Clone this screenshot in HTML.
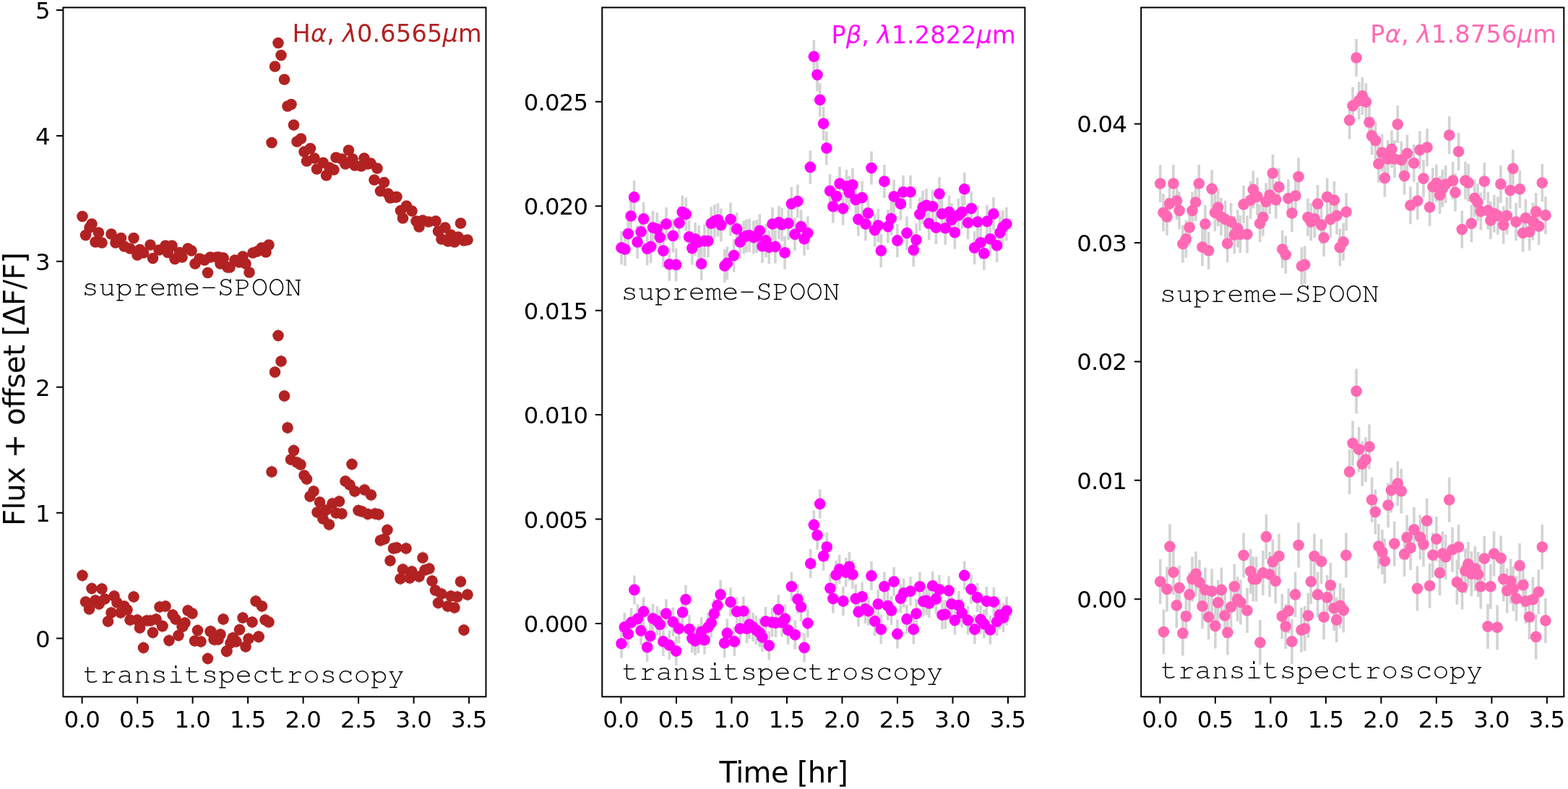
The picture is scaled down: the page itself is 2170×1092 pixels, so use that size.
<!DOCTYPE html>
<html><head><meta charset="utf-8"><title>Flare light curves</title>
<style>html,body{margin:0;padding:0;background:#fff;overflow:hidden;}svg{display:block;}</style></head>
<body>
<svg width="2170" height="1092" viewBox="0 0 2170 1092" font-family="'DejaVu Sans', 'Liberation Sans', sans-serif">
<rect width="2170" height="1092" fill="#fff"/>
<path d="M114.0 294.5V304.5M127.0 305.0V315.0M124.0 310.0V320.0M118.5 320.5V330.5M136.5 317.0V327.0M132.0 330.0V340.0M141.0 331.0V341.0M154.0 319.0V329.0M160.0 331.0V341.0M167.5 324.5V334.5M172.0 336.0V346.0M185.0 324.5V334.5M180.0 339.0V349.0M190.0 348.0V358.0M193.5 340.5V350.5M198.5 345.0V355.0M208.0 334.0V344.0M211.5 352.5V362.5M220.0 341.0V351.0M229.0 335.0V345.0M238.0 335.0V345.0M232.2 344.5V354.5M248.4 344.5V354.5M242.0 353.5V363.5M252.0 351.0V361.0M260.0 339.0V349.0M265.0 342.0V352.0M270.0 360.0V370.0M276.0 353.0V363.0M283.0 355.0V365.0M287.5 372.5V382.5M291.0 351.0V361.0M300.0 351.0V361.0M305.0 360.0V370.0M309.0 352.0V362.0M315.0 365.0V375.0M303.0 351.0V361.0M309.0 353.0V363.0M318.0 365.0V375.0M325.0 355.0V365.0M331.0 358.0V368.0M336.0 350.0V360.0M340.0 360.0V370.0M345.0 372.0V382.0M350.0 345.0V355.0M356.0 343.0V353.0M362.0 338.0V348.0M368.0 344.0V354.0M372.0 334.0V344.0M376.0 192.5V202.5M380.5 87.0V97.0M385.0 54.5V64.5M389.0 71.5V81.5M393.5 105.0V115.0M398.0 142.0V152.0M403.0 139.5V149.5M406.5 168.0V178.0M411.0 191.0V201.0M416.5 187.0V197.0M421.0 205.0V215.0M429.5 200.5V210.5M424.5 218.0V228.0M435.0 214.0V224.0M438.5 229.0V239.0M447.3 220.2V230.2M451.6 237.7V247.7M456.0 227.0V237.0M462.0 230.0V240.0M465.0 213.0V223.0M473.0 215.0V225.0M478.0 222.0V232.0M482.5 203.0V213.0M488.0 215.0V225.0M491.0 224.0V234.0M504.0 214.0V224.0M500.0 225.0V235.0M509.0 222.0V232.0M513.0 221.0V231.0M522.0 228.0V238.0M518.0 244.0V254.0M531.5 247.5V257.5M526.5 259.5V269.5M537.0 263.0V273.0M540.0 269.0V279.0M544.0 268.0V278.0M548.0 268.0V278.0M549.0 267.5V277.5M554.5 286.5V296.5M562.5 280.0V290.0M570.0 287.0V297.0M557.5 297.0V307.0M576.0 301.0V311.0M585.0 300.0V310.0M580.0 309.0V319.0M593.0 302.0V312.0M603.0 301.0V311.0M606.5 315.0V325.0M616.0 310.0V320.0M611.0 326.0V336.0M620.0 329.0V339.0M624.0 320.0V330.0M629.0 330.0V340.0M634.0 323.0V333.0M642.0 328.0V338.0M647.0 327.0V337.0M637.5 304.0V314.0" stroke="#d3d3d3" stroke-width="2.2" fill="none"/>
<g fill="#b22222"><circle cx="114.0" cy="299.5" r="7.8"/><circle cx="127.0" cy="310.0" r="7.8"/><circle cx="124.0" cy="315.0" r="7.8"/><circle cx="118.5" cy="325.5" r="7.8"/><circle cx="136.5" cy="322.0" r="7.8"/><circle cx="132.0" cy="335.0" r="7.8"/><circle cx="141.0" cy="336.0" r="7.8"/><circle cx="154.0" cy="324.0" r="7.8"/><circle cx="160.0" cy="336.0" r="7.8"/><circle cx="167.5" cy="329.5" r="7.8"/><circle cx="172.0" cy="341.0" r="7.8"/><circle cx="185.0" cy="329.5" r="7.8"/><circle cx="180.0" cy="344.0" r="7.8"/><circle cx="190.0" cy="353.0" r="7.8"/><circle cx="193.5" cy="345.5" r="7.8"/><circle cx="198.5" cy="350.0" r="7.8"/><circle cx="208.0" cy="339.0" r="7.8"/><circle cx="211.5" cy="357.5" r="7.8"/><circle cx="220.0" cy="346.0" r="7.8"/><circle cx="229.0" cy="340.0" r="7.8"/><circle cx="238.0" cy="340.0" r="7.8"/><circle cx="232.2" cy="349.5" r="7.8"/><circle cx="248.4" cy="349.5" r="7.8"/><circle cx="242.0" cy="358.5" r="7.8"/><circle cx="252.0" cy="356.0" r="7.8"/><circle cx="260.0" cy="344.0" r="7.8"/><circle cx="265.0" cy="347.0" r="7.8"/><circle cx="270.0" cy="365.0" r="7.8"/><circle cx="276.0" cy="358.0" r="7.8"/><circle cx="283.0" cy="360.0" r="7.8"/><circle cx="287.5" cy="377.5" r="7.8"/><circle cx="291.0" cy="356.0" r="7.8"/><circle cx="300.0" cy="356.0" r="7.8"/><circle cx="305.0" cy="365.0" r="7.8"/><circle cx="309.0" cy="357.0" r="7.8"/><circle cx="315.0" cy="370.0" r="7.8"/><circle cx="303.0" cy="356.0" r="7.8"/><circle cx="309.0" cy="358.0" r="7.8"/><circle cx="318.0" cy="370.0" r="7.8"/><circle cx="325.0" cy="360.0" r="7.8"/><circle cx="331.0" cy="363.0" r="7.8"/><circle cx="336.0" cy="355.0" r="7.8"/><circle cx="340.0" cy="365.0" r="7.8"/><circle cx="345.0" cy="377.0" r="7.8"/><circle cx="350.0" cy="350.0" r="7.8"/><circle cx="356.0" cy="348.0" r="7.8"/><circle cx="362.0" cy="343.0" r="7.8"/><circle cx="368.0" cy="349.0" r="7.8"/><circle cx="372.0" cy="339.0" r="7.8"/><circle cx="376.0" cy="197.5" r="7.8"/><circle cx="380.5" cy="92.0" r="7.8"/><circle cx="385.0" cy="59.5" r="7.8"/><circle cx="389.0" cy="76.5" r="7.8"/><circle cx="393.5" cy="110.0" r="7.8"/><circle cx="398.0" cy="147.0" r="7.8"/><circle cx="403.0" cy="144.5" r="7.8"/><circle cx="406.5" cy="173.0" r="7.8"/><circle cx="411.0" cy="196.0" r="7.8"/><circle cx="416.5" cy="192.0" r="7.8"/><circle cx="421.0" cy="210.0" r="7.8"/><circle cx="429.5" cy="205.5" r="7.8"/><circle cx="424.5" cy="223.0" r="7.8"/><circle cx="435.0" cy="219.0" r="7.8"/><circle cx="438.5" cy="234.0" r="7.8"/><circle cx="447.3" cy="225.2" r="7.8"/><circle cx="451.6" cy="242.7" r="7.8"/><circle cx="456.0" cy="232.0" r="7.8"/><circle cx="462.0" cy="235.0" r="7.8"/><circle cx="465.0" cy="218.0" r="7.8"/><circle cx="473.0" cy="220.0" r="7.8"/><circle cx="478.0" cy="227.0" r="7.8"/><circle cx="482.5" cy="208.0" r="7.8"/><circle cx="488.0" cy="220.0" r="7.8"/><circle cx="491.0" cy="229.0" r="7.8"/><circle cx="504.0" cy="219.0" r="7.8"/><circle cx="500.0" cy="230.0" r="7.8"/><circle cx="509.0" cy="227.0" r="7.8"/><circle cx="513.0" cy="226.0" r="7.8"/><circle cx="522.0" cy="233.0" r="7.8"/><circle cx="518.0" cy="249.0" r="7.8"/><circle cx="531.5" cy="252.5" r="7.8"/><circle cx="526.5" cy="264.5" r="7.8"/><circle cx="537.0" cy="268.0" r="7.8"/><circle cx="540.0" cy="274.0" r="7.8"/><circle cx="544.0" cy="273.0" r="7.8"/><circle cx="548.0" cy="273.0" r="7.8"/><circle cx="549.0" cy="272.5" r="7.8"/><circle cx="554.5" cy="291.5" r="7.8"/><circle cx="562.5" cy="285.0" r="7.8"/><circle cx="570.0" cy="292.0" r="7.8"/><circle cx="557.5" cy="302.0" r="7.8"/><circle cx="576.0" cy="306.0" r="7.8"/><circle cx="585.0" cy="305.0" r="7.8"/><circle cx="580.0" cy="314.0" r="7.8"/><circle cx="593.0" cy="307.0" r="7.8"/><circle cx="603.0" cy="306.0" r="7.8"/><circle cx="606.5" cy="320.0" r="7.8"/><circle cx="616.0" cy="315.0" r="7.8"/><circle cx="611.0" cy="331.0" r="7.8"/><circle cx="620.0" cy="334.0" r="7.8"/><circle cx="624.0" cy="325.0" r="7.8"/><circle cx="629.0" cy="335.0" r="7.8"/><circle cx="634.0" cy="328.0" r="7.8"/><circle cx="642.0" cy="333.0" r="7.8"/><circle cx="647.0" cy="332.0" r="7.8"/><circle cx="637.5" cy="309.0" r="7.8"/></g>
<path d="M114.0 787.0V806.0M127.0 805.0V824.0M141.0 805.5V824.5M118.5 823.5V842.5M123.5 833.5V852.5M132.0 821.5V840.5M137.0 826.5V845.5M145.0 819.5V838.5M158.0 815.5V834.5M154.0 838.5V857.5M149.5 850.5V869.5M162.0 824.5V843.5M172.0 829.5V848.5M176.0 834.5V853.5M167.0 838.5V857.5M185.0 816.5V835.5M180.0 848.5V867.5M190.0 848.5V867.5M193.5 859.5V878.5M203.0 849.5V868.5M208.0 849.5V868.5M216.0 847.5V866.5M211.5 866.0V885.0M221.0 830.5V849.5M229.0 829.5V848.5M224.5 857.0V876.0M239.0 841.5V860.5M243.0 847.5V866.5M260.0 835.5V854.5M266.0 839.5V858.5M256.0 852.5V871.5M252.0 857.5V876.5M247.0 870.0V889.0M234.0 877.0V896.0M198.5 887.0V906.0M225.0 857.0V876.0M253.0 857.5V876.5M273.5 863.0V882.0M269.5 877.5V896.5M278.0 878.5V897.5M291.0 864.5V883.5M296.0 875.5V894.5M305.0 868.5V887.5M302.0 875.5V894.5M287.5 902.0V921.0M322.0 873.5V892.5M327.0 878.5V897.5M319.0 880.5V899.5M313.5 892.0V911.0M331.5 862.0V881.0M340.0 885.5V904.5M344.0 874.5V893.5M358.0 871.5V890.5M349.0 851.5V870.5M336.0 845.5V864.5M309.0 847.5V866.5M292.0 864.5V883.5M298.0 875.5V894.5M314.0 891.5V910.5M323.0 873.5V892.5M354.0 822.5V841.5M362.5 829.5V848.5M358.0 872.0V891.0M367.0 848.5V867.5M372.0 851.5V870.5M376.0 643.5V662.5M380.5 505.5V524.5M385.0 455.0V474.0M389.0 490.5V509.5M393.5 538.5V557.5M398.0 582.5V601.5M402.5 626.5V645.5M406.5 614.0V633.0M411.0 630.5V649.5M416.0 633.5V652.5M421.0 648.5V667.5M424.5 653.5V672.5M434.0 670.5V689.5M429.0 677.5V696.5M442.5 685.5V704.5M439.0 699.5V718.5M447.0 708.5V727.5M455.5 716.5V735.5M451.0 696.5V715.5M460.0 687.5V706.5M469.5 684.5V703.5M465.0 700.5V719.5M473.0 701.5V720.5M478.0 656.5V675.5M484.0 661.5V680.5M487.0 633.0V652.0M491.0 670.5V689.5M504.5 668.5V687.5M513.5 675.5V694.5M496.0 697.0V716.0M501.0 698.5V717.5M509.0 702.0V721.0M519.0 701.5V720.5M524.0 702.5V721.5M536.0 724.0V743.0M526.5 738.5V757.5M532.0 736.5V755.5M544.5 749.5V768.5M549.0 748.5V767.5M562.0 749.5V768.5M540.0 766.5V785.5M585.0 762.5V781.5M557.5 778.5V797.5M554.0 791.5V810.5M570.0 781.5V800.5M567.0 790.5V809.5M580.0 788.5V807.5M588.0 779.5V798.5M594.0 777.5V796.5M598.0 794.5V813.5M602.5 807.5V826.5M611.0 812.5V831.5M606.5 825.0V844.0M619.5 829.5V848.5M624.0 815.5V834.5M629.0 831.5V850.5M633.0 816.5V835.5M637.5 795.5V814.5M647.0 813.5V832.5M642.0 862.5V881.5" stroke="#d3d3d3" stroke-width="2.2" fill="none"/>
<g fill="#b22222"><circle cx="114.0" cy="796.5" r="7.8"/><circle cx="127.0" cy="814.5" r="7.8"/><circle cx="141.0" cy="815.0" r="7.8"/><circle cx="118.5" cy="833.0" r="7.8"/><circle cx="123.5" cy="843.0" r="7.8"/><circle cx="132.0" cy="831.0" r="7.8"/><circle cx="137.0" cy="836.0" r="7.8"/><circle cx="145.0" cy="829.0" r="7.8"/><circle cx="158.0" cy="825.0" r="7.8"/><circle cx="154.0" cy="848.0" r="7.8"/><circle cx="149.5" cy="860.0" r="7.8"/><circle cx="162.0" cy="834.0" r="7.8"/><circle cx="172.0" cy="839.0" r="7.8"/><circle cx="176.0" cy="844.0" r="7.8"/><circle cx="167.0" cy="848.0" r="7.8"/><circle cx="185.0" cy="826.0" r="7.8"/><circle cx="180.0" cy="858.0" r="7.8"/><circle cx="190.0" cy="858.0" r="7.8"/><circle cx="193.5" cy="869.0" r="7.8"/><circle cx="203.0" cy="859.0" r="7.8"/><circle cx="208.0" cy="859.0" r="7.8"/><circle cx="216.0" cy="857.0" r="7.8"/><circle cx="211.5" cy="875.5" r="7.8"/><circle cx="221.0" cy="840.0" r="7.8"/><circle cx="229.0" cy="839.0" r="7.8"/><circle cx="224.5" cy="866.5" r="7.8"/><circle cx="239.0" cy="851.0" r="7.8"/><circle cx="243.0" cy="857.0" r="7.8"/><circle cx="260.0" cy="845.0" r="7.8"/><circle cx="266.0" cy="849.0" r="7.8"/><circle cx="256.0" cy="862.0" r="7.8"/><circle cx="252.0" cy="867.0" r="7.8"/><circle cx="247.0" cy="879.5" r="7.8"/><circle cx="234.0" cy="886.5" r="7.8"/><circle cx="198.5" cy="896.5" r="7.8"/><circle cx="225.0" cy="866.5" r="7.8"/><circle cx="253.0" cy="867.0" r="7.8"/><circle cx="273.5" cy="872.5" r="7.8"/><circle cx="269.5" cy="887.0" r="7.8"/><circle cx="278.0" cy="888.0" r="7.8"/><circle cx="291.0" cy="874.0" r="7.8"/><circle cx="296.0" cy="885.0" r="7.8"/><circle cx="305.0" cy="878.0" r="7.8"/><circle cx="302.0" cy="885.0" r="7.8"/><circle cx="287.5" cy="911.5" r="7.8"/><circle cx="322.0" cy="883.0" r="7.8"/><circle cx="327.0" cy="888.0" r="7.8"/><circle cx="319.0" cy="890.0" r="7.8"/><circle cx="313.5" cy="901.5" r="7.8"/><circle cx="331.5" cy="871.5" r="7.8"/><circle cx="340.0" cy="895.0" r="7.8"/><circle cx="344.0" cy="884.0" r="7.8"/><circle cx="358.0" cy="881.0" r="7.8"/><circle cx="349.0" cy="861.0" r="7.8"/><circle cx="336.0" cy="855.0" r="7.8"/><circle cx="309.0" cy="857.0" r="7.8"/><circle cx="292.0" cy="874.0" r="7.8"/><circle cx="298.0" cy="885.0" r="7.8"/><circle cx="314.0" cy="901.0" r="7.8"/><circle cx="323.0" cy="883.0" r="7.8"/><circle cx="354.0" cy="832.0" r="7.8"/><circle cx="362.5" cy="839.0" r="7.8"/><circle cx="358.0" cy="881.5" r="7.8"/><circle cx="367.0" cy="858.0" r="7.8"/><circle cx="372.0" cy="861.0" r="7.8"/><circle cx="376.0" cy="653.0" r="7.8"/><circle cx="380.5" cy="515.0" r="7.8"/><circle cx="385.0" cy="464.5" r="7.8"/><circle cx="389.0" cy="500.0" r="7.8"/><circle cx="393.5" cy="548.0" r="7.8"/><circle cx="398.0" cy="592.0" r="7.8"/><circle cx="402.5" cy="636.0" r="7.8"/><circle cx="406.5" cy="623.5" r="7.8"/><circle cx="411.0" cy="640.0" r="7.8"/><circle cx="416.0" cy="643.0" r="7.8"/><circle cx="421.0" cy="658.0" r="7.8"/><circle cx="424.5" cy="663.0" r="7.8"/><circle cx="434.0" cy="680.0" r="7.8"/><circle cx="429.0" cy="687.0" r="7.8"/><circle cx="442.5" cy="695.0" r="7.8"/><circle cx="439.0" cy="709.0" r="7.8"/><circle cx="447.0" cy="718.0" r="7.8"/><circle cx="455.5" cy="726.0" r="7.8"/><circle cx="451.0" cy="706.0" r="7.8"/><circle cx="460.0" cy="697.0" r="7.8"/><circle cx="469.5" cy="694.0" r="7.8"/><circle cx="465.0" cy="710.0" r="7.8"/><circle cx="473.0" cy="711.0" r="7.8"/><circle cx="478.0" cy="666.0" r="7.8"/><circle cx="484.0" cy="671.0" r="7.8"/><circle cx="487.0" cy="642.5" r="7.8"/><circle cx="491.0" cy="680.0" r="7.8"/><circle cx="504.5" cy="678.0" r="7.8"/><circle cx="513.5" cy="685.0" r="7.8"/><circle cx="496.0" cy="706.5" r="7.8"/><circle cx="501.0" cy="708.0" r="7.8"/><circle cx="509.0" cy="711.5" r="7.8"/><circle cx="519.0" cy="711.0" r="7.8"/><circle cx="524.0" cy="712.0" r="7.8"/><circle cx="536.0" cy="733.5" r="7.8"/><circle cx="526.5" cy="748.0" r="7.8"/><circle cx="532.0" cy="746.0" r="7.8"/><circle cx="544.5" cy="759.0" r="7.8"/><circle cx="549.0" cy="758.0" r="7.8"/><circle cx="562.0" cy="759.0" r="7.8"/><circle cx="540.0" cy="776.0" r="7.8"/><circle cx="585.0" cy="772.0" r="7.8"/><circle cx="557.5" cy="788.0" r="7.8"/><circle cx="554.0" cy="801.0" r="7.8"/><circle cx="570.0" cy="791.0" r="7.8"/><circle cx="567.0" cy="800.0" r="7.8"/><circle cx="580.0" cy="798.0" r="7.8"/><circle cx="588.0" cy="789.0" r="7.8"/><circle cx="594.0" cy="787.0" r="7.8"/><circle cx="598.0" cy="804.0" r="7.8"/><circle cx="602.5" cy="817.0" r="7.8"/><circle cx="611.0" cy="822.0" r="7.8"/><circle cx="606.5" cy="834.5" r="7.8"/><circle cx="619.5" cy="839.0" r="7.8"/><circle cx="624.0" cy="825.0" r="7.8"/><circle cx="629.0" cy="841.0" r="7.8"/><circle cx="633.0" cy="826.0" r="7.8"/><circle cx="637.5" cy="805.0" r="7.8"/><circle cx="647.0" cy="823.0" r="7.8"/><circle cx="642.0" cy="872.0" r="7.8"/></g>
<rect x="87.4" y="10.4" width="585.1" height="953.9" fill="none" stroke="#000" stroke-width="2.0"/>
<path d="M113.6 964.3V973.6999999999999M190.1 964.3V973.6999999999999M266.6 964.3V973.6999999999999M343.1 964.3V973.6999999999999M419.6 964.3V973.6999999999999M496.1 964.3V973.6999999999999M572.6 964.3V973.6999999999999M649.1 964.3V973.6999999999999M78.0 883.6H87.4M78.0 709.7H87.4M78.0 535.7H87.4M78.0 361.8H87.4M78.0 187.9H87.4M78.0 13.9H87.4" stroke="#000" stroke-width="2.0" fill="none"/>
<path d="M860.0 319.9V365.9M865.0 322.0V368.0M869.3 300.6V346.6M873.1 276.0V322.0M877.6 249.9V295.9M882.1 312.0V358.0M887.1 297.7V343.7M890.7 279.9V325.9M895.7 321.3V367.3M900.7 318.4V364.4M903.6 292.0V338.0M909.3 294.1V340.1M913.3 305.6V351.6M917.9 324.1V370.1M922.1 287.0V333.0M926.4 342.7V388.7M931.4 303.4V349.4M935.7 343.4V389.4M940.0 285.6V331.6M944.3 270.6V316.6M949.3 273.4V319.4M953.6 304.9V350.9M957.9 320.6V366.6M962.1 307.7V353.7M967.1 312.0V358.0M970.7 342.0V388.0M975.0 310.6V356.6M980.0 310.6V356.6M984.3 286.3V332.3M989.0 283.0V329.0M993.6 281.3V327.3M997.9 288.4V334.4M1002.9 344.9V390.9M1006.4 341.3V387.3M1011.1 280.6V326.6M1015.7 330.6V376.6M1019.7 293.9V339.9M1024.3 312.0V358.0M1029.3 305.6V351.6M1033.0 303.5V349.5M1037.1 302.7V348.7M1042.9 305.6V351.6M1047.1 304.1V350.1M1051.4 296.3V342.3M1055.0 317.7V363.7M1060.0 309.9V355.9M1064.3 319.1V365.1M1069.0 287.0V333.0M1072.9 318.4V364.4M1077.9 284.9V330.9M1082.1 287.7V333.7M1086.1 326.7V372.7M1091.1 286.0V332.0M1095.4 259.1V305.1M1103.9 255.6V301.6M1100.0 301.3V347.3M1108.6 290.6V336.6M1113.1 307.7V353.7M1117.9 299.6V345.6M1121.4 208.4V254.4M1126.4 55.3V101.3M1131.0 80.6V126.6M1134.7 115.3V161.3M1139.6 148.1V194.1M1143.9 182.0V228.0M1148.6 241.3V287.3M1152.9 262.7V308.7M1157.6 248.7V294.7M1162.1 231.0V277.0M1166.7 265.6V311.6M1171.4 234.9V280.9M1175.3 243.4V289.4M1180.0 232.7V278.7M1184.3 253.4V299.4M1187.9 280.6V326.6M1193.1 250.6V296.6M1197.9 287.0V333.0M1201.4 272.0V318.0M1206.0 209.6V255.6M1210.7 295.6V341.6M1215.3 289.1V335.1M1219.3 323.9V369.9M1223.9 228.1V274.1M1228.9 290.6V336.6M1233.3 279.6V325.6M1237.1 249.1V295.1M1241.9 309.9V355.9M1246.4 259.1V305.1M1250.0 242.7V288.7M1255.0 299.6V345.6M1260.0 242.7V288.7M1264.3 323.0V369.0M1268.1 309.1V355.1M1272.9 273.4V319.4M1277.1 264.1V310.1M1282.1 261.3V307.3M1285.7 286.3V332.3M1290.7 262.7V308.7M1295.4 292.0V338.0M1300.0 245.3V291.3M1303.6 273.0V319.0M1308.3 292.7V338.7M1313.6 270.6V316.6M1316.9 281.3V327.3M1321.4 298.7V344.7M1326.4 274.9V320.9M1331.4 270.6V316.6M1334.7 238.7V284.7M1339.6 285.3V331.3M1344.3 265.6V311.6M1348.6 319.9V365.9M1352.9 284.1V330.1M1357.1 312.7V358.7M1361.9 327.7V373.7M1366.0 283.4V329.4M1370.4 307.7V353.7M1375.0 273.0V319.0M1379.7 316.7V362.7M1383.9 299.1V345.1M1387.9 291.3V337.3M1392.9 287.0V333.0" stroke="#d3d3d3" stroke-width="3.6" fill="none"/>
<g fill="#ff00ff"><circle cx="860.0" cy="342.9" r="7.8"/><circle cx="865.0" cy="345.0" r="7.8"/><circle cx="869.3" cy="323.6" r="7.8"/><circle cx="873.1" cy="299.0" r="7.8"/><circle cx="877.6" cy="272.9" r="7.8"/><circle cx="882.1" cy="335.0" r="7.8"/><circle cx="887.1" cy="320.7" r="7.8"/><circle cx="890.7" cy="302.9" r="7.8"/><circle cx="895.7" cy="344.3" r="7.8"/><circle cx="900.7" cy="341.4" r="7.8"/><circle cx="903.6" cy="315.0" r="7.8"/><circle cx="909.3" cy="317.1" r="7.8"/><circle cx="913.3" cy="328.6" r="7.8"/><circle cx="917.9" cy="347.1" r="7.8"/><circle cx="922.1" cy="310.0" r="7.8"/><circle cx="926.4" cy="365.7" r="7.8"/><circle cx="931.4" cy="326.4" r="7.8"/><circle cx="935.7" cy="366.4" r="7.8"/><circle cx="940.0" cy="308.6" r="7.8"/><circle cx="944.3" cy="293.6" r="7.8"/><circle cx="949.3" cy="296.4" r="7.8"/><circle cx="953.6" cy="327.9" r="7.8"/><circle cx="957.9" cy="343.6" r="7.8"/><circle cx="962.1" cy="330.7" r="7.8"/><circle cx="967.1" cy="335.0" r="7.8"/><circle cx="970.7" cy="365.0" r="7.8"/><circle cx="975.0" cy="333.6" r="7.8"/><circle cx="980.0" cy="333.6" r="7.8"/><circle cx="984.3" cy="309.3" r="7.8"/><circle cx="989.0" cy="306.0" r="7.8"/><circle cx="993.6" cy="304.3" r="7.8"/><circle cx="997.9" cy="311.4" r="7.8"/><circle cx="1002.9" cy="367.9" r="7.8"/><circle cx="1006.4" cy="364.3" r="7.8"/><circle cx="1011.1" cy="303.6" r="7.8"/><circle cx="1015.7" cy="353.6" r="7.8"/><circle cx="1019.7" cy="316.9" r="7.8"/><circle cx="1024.3" cy="335.0" r="7.8"/><circle cx="1029.3" cy="328.6" r="7.8"/><circle cx="1033.0" cy="326.5" r="7.8"/><circle cx="1037.1" cy="325.7" r="7.8"/><circle cx="1042.9" cy="328.6" r="7.8"/><circle cx="1047.1" cy="327.1" r="7.8"/><circle cx="1051.4" cy="319.3" r="7.8"/><circle cx="1055.0" cy="340.7" r="7.8"/><circle cx="1060.0" cy="332.9" r="7.8"/><circle cx="1064.3" cy="342.1" r="7.8"/><circle cx="1069.0" cy="310.0" r="7.8"/><circle cx="1072.9" cy="341.4" r="7.8"/><circle cx="1077.9" cy="307.9" r="7.8"/><circle cx="1082.1" cy="310.7" r="7.8"/><circle cx="1086.1" cy="349.7" r="7.8"/><circle cx="1091.1" cy="309.0" r="7.8"/><circle cx="1095.4" cy="282.1" r="7.8"/><circle cx="1103.9" cy="278.6" r="7.8"/><circle cx="1100.0" cy="324.3" r="7.8"/><circle cx="1108.6" cy="313.6" r="7.8"/><circle cx="1113.1" cy="330.7" r="7.8"/><circle cx="1117.9" cy="322.6" r="7.8"/><circle cx="1121.4" cy="231.4" r="7.8"/><circle cx="1126.4" cy="78.3" r="7.8"/><circle cx="1131.0" cy="103.6" r="7.8"/><circle cx="1134.7" cy="138.3" r="7.8"/><circle cx="1139.6" cy="171.1" r="7.8"/><circle cx="1143.9" cy="205.0" r="7.8"/><circle cx="1148.6" cy="264.3" r="7.8"/><circle cx="1152.9" cy="285.7" r="7.8"/><circle cx="1157.6" cy="271.7" r="7.8"/><circle cx="1162.1" cy="254.0" r="7.8"/><circle cx="1166.7" cy="288.6" r="7.8"/><circle cx="1171.4" cy="257.9" r="7.8"/><circle cx="1175.3" cy="266.4" r="7.8"/><circle cx="1180.0" cy="255.7" r="7.8"/><circle cx="1184.3" cy="276.4" r="7.8"/><circle cx="1187.9" cy="303.6" r="7.8"/><circle cx="1193.1" cy="273.6" r="7.8"/><circle cx="1197.9" cy="310.0" r="7.8"/><circle cx="1201.4" cy="295.0" r="7.8"/><circle cx="1206.0" cy="232.6" r="7.8"/><circle cx="1210.7" cy="318.6" r="7.8"/><circle cx="1215.3" cy="312.1" r="7.8"/><circle cx="1219.3" cy="346.9" r="7.8"/><circle cx="1223.9" cy="251.1" r="7.8"/><circle cx="1228.9" cy="313.6" r="7.8"/><circle cx="1233.3" cy="302.6" r="7.8"/><circle cx="1237.1" cy="272.1" r="7.8"/><circle cx="1241.9" cy="332.9" r="7.8"/><circle cx="1246.4" cy="282.1" r="7.8"/><circle cx="1250.0" cy="265.7" r="7.8"/><circle cx="1255.0" cy="322.6" r="7.8"/><circle cx="1260.0" cy="265.7" r="7.8"/><circle cx="1264.3" cy="346.0" r="7.8"/><circle cx="1268.1" cy="332.1" r="7.8"/><circle cx="1272.9" cy="296.4" r="7.8"/><circle cx="1277.1" cy="287.1" r="7.8"/><circle cx="1282.1" cy="284.3" r="7.8"/><circle cx="1285.7" cy="309.3" r="7.8"/><circle cx="1290.7" cy="285.7" r="7.8"/><circle cx="1295.4" cy="315.0" r="7.8"/><circle cx="1300.0" cy="268.3" r="7.8"/><circle cx="1303.6" cy="296.0" r="7.8"/><circle cx="1308.3" cy="315.7" r="7.8"/><circle cx="1313.6" cy="293.6" r="7.8"/><circle cx="1316.9" cy="304.3" r="7.8"/><circle cx="1321.4" cy="321.7" r="7.8"/><circle cx="1326.4" cy="297.9" r="7.8"/><circle cx="1331.4" cy="293.6" r="7.8"/><circle cx="1334.7" cy="261.7" r="7.8"/><circle cx="1339.6" cy="308.3" r="7.8"/><circle cx="1344.3" cy="288.6" r="7.8"/><circle cx="1348.6" cy="342.9" r="7.8"/><circle cx="1352.9" cy="307.1" r="7.8"/><circle cx="1357.1" cy="335.7" r="7.8"/><circle cx="1361.9" cy="350.7" r="7.8"/><circle cx="1366.0" cy="306.4" r="7.8"/><circle cx="1370.4" cy="330.7" r="7.8"/><circle cx="1375.0" cy="296.0" r="7.8"/><circle cx="1379.7" cy="339.7" r="7.8"/><circle cx="1383.9" cy="322.1" r="7.8"/><circle cx="1387.9" cy="314.3" r="7.8"/><circle cx="1392.9" cy="310.0" r="7.8"/></g>
<path d="M860.0 870.7V910.7M864.3 847.9V887.9M869.3 857.4V897.4M873.6 841.4V881.4M877.9 796.4V836.4M882.4 836.4V876.4M887.1 852.9V892.9M890.7 826.4V866.4M895.7 875.7V915.7M900.0 860.3V900.3M903.6 836.0V876.0M909.3 839.3V879.3M913.3 844.3V884.3M917.9 867.9V907.9M921.9 829.3V869.3M926.4 872.9V912.9M931.4 840.7V880.7M935.7 881.1V921.1M939.6 850.0V890.0M944.6 827.4V867.4M949.0 809.7V849.7M953.9 850.7V890.7M957.9 863.6V903.6M962.1 867.1V907.1M966.4 864.3V904.3M970.7 854.3V894.3M975.0 865.7V905.7M980.0 847.9V887.9M984.3 842.1V882.1M988.3 829.3V869.3M992.9 817.9V857.9M997.1 802.9V842.9M1002.6 870.0V910.0M1006.4 856.4V896.4M1011.1 813.3V853.3M1016.4 867.9V907.9M1019.7 826.4V866.4M1024.3 850.0V890.0M1028.9 825.7V865.7M1033.6 850.0V890.0M1037.1 844.3V884.3M1042.1 847.9V887.9M1046.4 852.1V892.1M1051.4 855.7V895.7M1055.0 862.1V902.1M1059.6 840.0V880.0M1064.3 873.6V913.6M1068.6 841.4V881.4M1073.6 842.1V882.1M1077.4 823.6V863.6M1082.1 841.4V881.4M1086.4 836.4V876.4M1090.7 852.1V892.1M1095.4 791.7V831.7M1100.3 858.6V898.6M1104.0 809.3V849.3M1108.6 820.0V860.0M1113.1 876.4V916.4M1117.9 842.6V882.6M1121.7 760.0V800.0M1126.4 706.4V746.4M1131.1 720.7V760.7M1134.7 677.4V717.4M1139.6 749.7V789.7M1144.3 737.1V777.1M1148.9 794.3V834.3M1152.9 808.6V848.6M1157.1 775.7V815.7M1161.7 767.9V807.9M1166.9 812.1V852.1M1170.7 772.1V812.1M1175.4 764.3V804.3M1180.0 775.0V815.0M1184.3 808.6V848.6M1188.1 826.9V866.9M1193.1 805.7V845.7M1197.6 822.9V862.9M1201.9 825.7V865.7M1206.0 776.9V816.9M1210.7 839.7V879.7M1215.3 816.0V856.0M1219.3 851.1V891.1M1223.9 791.7V831.7M1228.6 818.6V858.6M1233.6 825.0V865.0M1237.1 785.0V825.0M1241.9 857.4V897.4M1246.4 808.3V848.3M1250.7 800.7V840.7M1255.0 836.9V876.9M1260.0 798.3V838.3M1264.3 851.1V891.1M1268.1 829.3V869.3M1272.9 791.7V831.7M1277.9 812.4V852.4M1282.1 811.4V851.4M1286.0 815.0V855.0M1290.7 790.7V830.7M1295.4 808.9V848.9M1300.0 796.0V836.0M1304.0 831.1V871.1M1308.3 830.3V870.3M1313.1 797.4V837.4M1316.9 816.0V856.0M1321.4 838.6V878.6M1326.9 817.9V857.9M1331.1 828.3V868.3M1334.7 776.4V816.4M1339.6 838.6V878.6M1344.0 795.4V835.4M1348.9 851.1V891.1M1352.6 806.9V846.9M1357.1 837.4V877.4M1361.9 843.6V883.6M1365.4 812.1V852.1M1370.4 851.7V891.7M1375.4 813.1V853.1M1379.7 840.3V880.3M1383.6 831.1V871.1M1388.6 835.0V875.0M1393.1 825.4V865.4" stroke="#d3d3d3" stroke-width="3.6" fill="none"/>
<g fill="#ff00ff"><circle cx="860.0" cy="890.7" r="7.8"/><circle cx="864.3" cy="867.9" r="7.8"/><circle cx="869.3" cy="877.4" r="7.8"/><circle cx="873.6" cy="861.4" r="7.8"/><circle cx="877.9" cy="816.4" r="7.8"/><circle cx="882.4" cy="856.4" r="7.8"/><circle cx="887.1" cy="872.9" r="7.8"/><circle cx="890.7" cy="846.4" r="7.8"/><circle cx="895.7" cy="895.7" r="7.8"/><circle cx="900.0" cy="880.3" r="7.8"/><circle cx="903.6" cy="856.0" r="7.8"/><circle cx="909.3" cy="859.3" r="7.8"/><circle cx="913.3" cy="864.3" r="7.8"/><circle cx="917.9" cy="887.9" r="7.8"/><circle cx="921.9" cy="849.3" r="7.8"/><circle cx="926.4" cy="892.9" r="7.8"/><circle cx="931.4" cy="860.7" r="7.8"/><circle cx="935.7" cy="901.1" r="7.8"/><circle cx="939.6" cy="870.0" r="7.8"/><circle cx="944.6" cy="847.4" r="7.8"/><circle cx="949.0" cy="829.7" r="7.8"/><circle cx="953.9" cy="870.7" r="7.8"/><circle cx="957.9" cy="883.6" r="7.8"/><circle cx="962.1" cy="887.1" r="7.8"/><circle cx="966.4" cy="884.3" r="7.8"/><circle cx="970.7" cy="874.3" r="7.8"/><circle cx="975.0" cy="885.7" r="7.8"/><circle cx="980.0" cy="867.9" r="7.8"/><circle cx="984.3" cy="862.1" r="7.8"/><circle cx="988.3" cy="849.3" r="7.8"/><circle cx="992.9" cy="837.9" r="7.8"/><circle cx="997.1" cy="822.9" r="7.8"/><circle cx="1002.6" cy="890.0" r="7.8"/><circle cx="1006.4" cy="876.4" r="7.8"/><circle cx="1011.1" cy="833.3" r="7.8"/><circle cx="1016.4" cy="887.9" r="7.8"/><circle cx="1019.7" cy="846.4" r="7.8"/><circle cx="1024.3" cy="870.0" r="7.8"/><circle cx="1028.9" cy="845.7" r="7.8"/><circle cx="1033.6" cy="870.0" r="7.8"/><circle cx="1037.1" cy="864.3" r="7.8"/><circle cx="1042.1" cy="867.9" r="7.8"/><circle cx="1046.4" cy="872.1" r="7.8"/><circle cx="1051.4" cy="875.7" r="7.8"/><circle cx="1055.0" cy="882.1" r="7.8"/><circle cx="1059.6" cy="860.0" r="7.8"/><circle cx="1064.3" cy="893.6" r="7.8"/><circle cx="1068.6" cy="861.4" r="7.8"/><circle cx="1073.6" cy="862.1" r="7.8"/><circle cx="1077.4" cy="843.6" r="7.8"/><circle cx="1082.1" cy="861.4" r="7.8"/><circle cx="1086.4" cy="856.4" r="7.8"/><circle cx="1090.7" cy="872.1" r="7.8"/><circle cx="1095.4" cy="811.7" r="7.8"/><circle cx="1100.3" cy="878.6" r="7.8"/><circle cx="1104.0" cy="829.3" r="7.8"/><circle cx="1108.6" cy="840.0" r="7.8"/><circle cx="1113.1" cy="896.4" r="7.8"/><circle cx="1117.9" cy="862.6" r="7.8"/><circle cx="1121.7" cy="780.0" r="7.8"/><circle cx="1126.4" cy="726.4" r="7.8"/><circle cx="1131.1" cy="740.7" r="7.8"/><circle cx="1134.7" cy="697.4" r="7.8"/><circle cx="1139.6" cy="769.7" r="7.8"/><circle cx="1144.3" cy="757.1" r="7.8"/><circle cx="1148.9" cy="814.3" r="7.8"/><circle cx="1152.9" cy="828.6" r="7.8"/><circle cx="1157.1" cy="795.7" r="7.8"/><circle cx="1161.7" cy="787.9" r="7.8"/><circle cx="1166.9" cy="832.1" r="7.8"/><circle cx="1170.7" cy="792.1" r="7.8"/><circle cx="1175.4" cy="784.3" r="7.8"/><circle cx="1180.0" cy="795.0" r="7.8"/><circle cx="1184.3" cy="828.6" r="7.8"/><circle cx="1188.1" cy="846.9" r="7.8"/><circle cx="1193.1" cy="825.7" r="7.8"/><circle cx="1197.6" cy="842.9" r="7.8"/><circle cx="1201.9" cy="845.7" r="7.8"/><circle cx="1206.0" cy="796.9" r="7.8"/><circle cx="1210.7" cy="859.7" r="7.8"/><circle cx="1215.3" cy="836.0" r="7.8"/><circle cx="1219.3" cy="871.1" r="7.8"/><circle cx="1223.9" cy="811.7" r="7.8"/><circle cx="1228.6" cy="838.6" r="7.8"/><circle cx="1233.6" cy="845.0" r="7.8"/><circle cx="1237.1" cy="805.0" r="7.8"/><circle cx="1241.9" cy="877.4" r="7.8"/><circle cx="1246.4" cy="828.3" r="7.8"/><circle cx="1250.7" cy="820.7" r="7.8"/><circle cx="1255.0" cy="856.9" r="7.8"/><circle cx="1260.0" cy="818.3" r="7.8"/><circle cx="1264.3" cy="871.1" r="7.8"/><circle cx="1268.1" cy="849.3" r="7.8"/><circle cx="1272.9" cy="811.7" r="7.8"/><circle cx="1277.9" cy="832.4" r="7.8"/><circle cx="1282.1" cy="831.4" r="7.8"/><circle cx="1286.0" cy="835.0" r="7.8"/><circle cx="1290.7" cy="810.7" r="7.8"/><circle cx="1295.4" cy="828.9" r="7.8"/><circle cx="1300.0" cy="816.0" r="7.8"/><circle cx="1304.0" cy="851.1" r="7.8"/><circle cx="1308.3" cy="850.3" r="7.8"/><circle cx="1313.1" cy="817.4" r="7.8"/><circle cx="1316.9" cy="836.0" r="7.8"/><circle cx="1321.4" cy="858.6" r="7.8"/><circle cx="1326.9" cy="837.9" r="7.8"/><circle cx="1331.1" cy="848.3" r="7.8"/><circle cx="1334.7" cy="796.4" r="7.8"/><circle cx="1339.6" cy="858.6" r="7.8"/><circle cx="1344.0" cy="815.4" r="7.8"/><circle cx="1348.9" cy="871.1" r="7.8"/><circle cx="1352.6" cy="826.9" r="7.8"/><circle cx="1357.1" cy="857.4" r="7.8"/><circle cx="1361.9" cy="863.6" r="7.8"/><circle cx="1365.4" cy="832.1" r="7.8"/><circle cx="1370.4" cy="871.7" r="7.8"/><circle cx="1375.4" cy="833.1" r="7.8"/><circle cx="1379.7" cy="860.3" r="7.8"/><circle cx="1383.6" cy="851.1" r="7.8"/><circle cx="1388.6" cy="855.0" r="7.8"/><circle cx="1393.1" cy="845.4" r="7.8"/></g>
<rect x="833.3" y="10.4" width="585.1" height="953.9" fill="none" stroke="#000" stroke-width="2.0"/>
<path d="M859.5 964.3V973.6999999999999M936.0 964.3V973.6999999999999M1012.5 964.3V973.6999999999999M1089.0 964.3V973.6999999999999M1165.5 964.3V973.6999999999999M1242.0 964.3V973.6999999999999M1318.5 964.3V973.6999999999999M1395.0 964.3V973.6999999999999M823.9 863.1H833.3M823.9 718.6H833.3M823.9 574.1H833.3M823.9 429.7H833.3M823.9 285.2H833.3M823.9 140.7H833.3" stroke="#000" stroke-width="2.0" fill="none"/>
<path d="M1605.7 228.0V280.0M1610.0 268.3V320.3M1615.0 274.0V326.0M1618.6 255.9V307.9M1623.9 228.0V280.0M1628.6 252.1V304.1M1632.1 265.4V317.4M1636.9 311.4V363.4M1641.4 304.7V356.7M1646.1 288.7V340.7M1650.0 265.4V317.4M1654.7 254.0V306.0M1659.3 228.0V280.0M1664.0 316.1V368.1M1667.9 284.0V336.0M1672.6 320.7V372.7M1677.1 235.4V287.4M1681.4 268.3V320.3M1685.7 261.1V313.1M1690.0 274.0V326.0M1695.7 277.6V329.6M1698.6 311.1V363.1M1703.6 281.1V333.1M1708.3 299.0V351.0M1712.9 290.4V342.4M1716.4 298.3V350.3M1721.1 256.9V308.9M1726.0 298.3V350.3M1730.7 251.1V303.1M1734.3 236.4V288.4M1740.0 246.1V298.1M1743.6 283.3V335.3M1747.9 274.7V326.7M1752.1 253.3V305.3M1757.1 244.0V296.0M1761.4 213.7V265.7M1765.7 250.4V302.4M1770.0 232.9V284.9M1774.7 319.0V371.0M1779.3 326.6V378.6M1782.9 248.6V300.6M1787.9 269.0V321.0M1792.9 245.0V297.0M1797.1 218.6V270.6M1801.4 342.3V394.3M1805.7 340.4V392.4M1810.0 274.7V326.7M1814.3 281.1V333.1M1819.3 276.9V328.9M1823.6 256.1V308.1M1828.6 285.4V337.4M1832.1 303.0V355.0M1836.7 246.6V298.6M1841.4 277.6V329.6M1846.4 251.1V303.1M1850.0 272.6V324.6M1854.3 316.4V368.4M1859.0 308.7V360.7M1863.1 267.3V319.3M1867.6 140.4V192.4M1872.1 120.4V172.4M1877.1 54.0V106.0M1880.7 113.3V165.3M1885.4 106.9V158.9M1890.4 115.1V167.1M1895.0 143.3V195.3M1898.6 161.9V213.9M1903.6 168.6V220.6M1907.9 200.7V252.7M1912.6 185.4V237.4M1916.4 220.4V272.4M1920.7 194.0V246.0M1926.0 180.4V232.4M1930.0 194.0V246.0M1934.3 146.1V198.1M1939.3 195.4V247.4M1943.6 217.6V269.6M1947.4 186.4V238.4M1951.9 258.3V310.3M1956.7 199.7V251.7M1961.7 252.1V304.1M1965.0 181.6V233.6M1970.0 221.1V273.1M1975.0 178.0V230.0M1978.6 260.7V312.7M1982.9 232.6V284.6M1987.9 227.6V279.6M1992.6 244.0V296.0M1996.4 234.7V286.7M2000.7 229.0V281.0M2005.7 161.1V213.1M2010.7 224.0V276.0M2014.0 240.4V292.4M2018.6 183.7V235.7M2023.3 291.6V343.6M2027.9 224.0V276.0M2032.1 226.9V278.9M2036.4 283.3V335.3M2040.7 248.3V300.3M2045.0 254.0V306.0M2049.3 266.6V318.6M2054.3 225.0V277.0M2059.3 265.4V317.4M2062.9 279.0V331.0M2067.9 269.7V321.7M2072.9 272.6V324.6M2076.9 228.7V280.7M2080.7 285.4V337.4M2085.4 272.6V324.6M2090.0 237.6V289.6M2093.9 207.3V259.3M2098.1 281.1V333.1M2103.3 235.7V287.7M2107.6 296.6V348.6M2111.4 275.7V327.7M2116.7 294.7V346.7M2121.4 280.4V332.4M2125.7 266.9V318.9M2129.7 287.1V339.1M2134.3 227.1V279.1M2139.0 271.9V323.9" stroke="#d3d3d3" stroke-width="3.6" fill="none"/>
<g fill="#ff69b4"><circle cx="1605.7" cy="254.0" r="7.8"/><circle cx="1610.0" cy="294.3" r="7.8"/><circle cx="1615.0" cy="300.0" r="7.8"/><circle cx="1618.6" cy="281.9" r="7.8"/><circle cx="1623.9" cy="254.0" r="7.8"/><circle cx="1628.6" cy="278.1" r="7.8"/><circle cx="1632.1" cy="291.4" r="7.8"/><circle cx="1636.9" cy="337.4" r="7.8"/><circle cx="1641.4" cy="330.7" r="7.8"/><circle cx="1646.1" cy="314.7" r="7.8"/><circle cx="1650.0" cy="291.4" r="7.8"/><circle cx="1654.7" cy="280.0" r="7.8"/><circle cx="1659.3" cy="254.0" r="7.8"/><circle cx="1664.0" cy="342.1" r="7.8"/><circle cx="1667.9" cy="310.0" r="7.8"/><circle cx="1672.6" cy="346.7" r="7.8"/><circle cx="1677.1" cy="261.4" r="7.8"/><circle cx="1681.4" cy="294.3" r="7.8"/><circle cx="1685.7" cy="287.1" r="7.8"/><circle cx="1690.0" cy="300.0" r="7.8"/><circle cx="1695.7" cy="303.6" r="7.8"/><circle cx="1698.6" cy="337.1" r="7.8"/><circle cx="1703.6" cy="307.1" r="7.8"/><circle cx="1708.3" cy="325.0" r="7.8"/><circle cx="1712.9" cy="316.4" r="7.8"/><circle cx="1716.4" cy="324.3" r="7.8"/><circle cx="1721.1" cy="282.9" r="7.8"/><circle cx="1726.0" cy="324.3" r="7.8"/><circle cx="1730.7" cy="277.1" r="7.8"/><circle cx="1734.3" cy="262.4" r="7.8"/><circle cx="1740.0" cy="272.1" r="7.8"/><circle cx="1743.6" cy="309.3" r="7.8"/><circle cx="1747.9" cy="300.7" r="7.8"/><circle cx="1752.1" cy="279.3" r="7.8"/><circle cx="1757.1" cy="270.0" r="7.8"/><circle cx="1761.4" cy="239.7" r="7.8"/><circle cx="1765.7" cy="276.4" r="7.8"/><circle cx="1770.0" cy="258.9" r="7.8"/><circle cx="1774.7" cy="345.0" r="7.8"/><circle cx="1779.3" cy="352.6" r="7.8"/><circle cx="1782.9" cy="274.6" r="7.8"/><circle cx="1787.9" cy="295.0" r="7.8"/><circle cx="1792.9" cy="271.0" r="7.8"/><circle cx="1797.1" cy="244.6" r="7.8"/><circle cx="1801.4" cy="368.3" r="7.8"/><circle cx="1805.7" cy="366.4" r="7.8"/><circle cx="1810.0" cy="300.7" r="7.8"/><circle cx="1814.3" cy="307.1" r="7.8"/><circle cx="1819.3" cy="302.9" r="7.8"/><circle cx="1823.6" cy="282.1" r="7.8"/><circle cx="1828.6" cy="311.4" r="7.8"/><circle cx="1832.1" cy="329.0" r="7.8"/><circle cx="1836.7" cy="272.6" r="7.8"/><circle cx="1841.4" cy="303.6" r="7.8"/><circle cx="1846.4" cy="277.1" r="7.8"/><circle cx="1850.0" cy="298.6" r="7.8"/><circle cx="1854.3" cy="342.4" r="7.8"/><circle cx="1859.0" cy="334.7" r="7.8"/><circle cx="1863.1" cy="293.3" r="7.8"/><circle cx="1867.6" cy="166.4" r="7.8"/><circle cx="1872.1" cy="146.4" r="7.8"/><circle cx="1877.1" cy="80.0" r="7.8"/><circle cx="1880.7" cy="139.3" r="7.8"/><circle cx="1885.4" cy="132.9" r="7.8"/><circle cx="1890.4" cy="141.1" r="7.8"/><circle cx="1895.0" cy="169.3" r="7.8"/><circle cx="1898.6" cy="187.9" r="7.8"/><circle cx="1903.6" cy="194.6" r="7.8"/><circle cx="1907.9" cy="226.7" r="7.8"/><circle cx="1912.6" cy="211.4" r="7.8"/><circle cx="1916.4" cy="246.4" r="7.8"/><circle cx="1920.7" cy="220.0" r="7.8"/><circle cx="1926.0" cy="206.4" r="7.8"/><circle cx="1930.0" cy="220.0" r="7.8"/><circle cx="1934.3" cy="172.1" r="7.8"/><circle cx="1939.3" cy="221.4" r="7.8"/><circle cx="1943.6" cy="243.6" r="7.8"/><circle cx="1947.4" cy="212.4" r="7.8"/><circle cx="1951.9" cy="284.3" r="7.8"/><circle cx="1956.7" cy="225.7" r="7.8"/><circle cx="1961.7" cy="278.1" r="7.8"/><circle cx="1965.0" cy="207.6" r="7.8"/><circle cx="1970.0" cy="247.1" r="7.8"/><circle cx="1975.0" cy="204.0" r="7.8"/><circle cx="1978.6" cy="286.7" r="7.8"/><circle cx="1982.9" cy="258.6" r="7.8"/><circle cx="1987.9" cy="253.6" r="7.8"/><circle cx="1992.6" cy="270.0" r="7.8"/><circle cx="1996.4" cy="260.7" r="7.8"/><circle cx="2000.7" cy="255.0" r="7.8"/><circle cx="2005.7" cy="187.1" r="7.8"/><circle cx="2010.7" cy="250.0" r="7.8"/><circle cx="2014.0" cy="266.4" r="7.8"/><circle cx="2018.6" cy="209.7" r="7.8"/><circle cx="2023.3" cy="317.6" r="7.8"/><circle cx="2027.9" cy="250.0" r="7.8"/><circle cx="2032.1" cy="252.9" r="7.8"/><circle cx="2036.4" cy="309.3" r="7.8"/><circle cx="2040.7" cy="274.3" r="7.8"/><circle cx="2045.0" cy="280.0" r="7.8"/><circle cx="2049.3" cy="292.6" r="7.8"/><circle cx="2054.3" cy="251.0" r="7.8"/><circle cx="2059.3" cy="291.4" r="7.8"/><circle cx="2062.9" cy="305.0" r="7.8"/><circle cx="2067.9" cy="295.7" r="7.8"/><circle cx="2072.9" cy="298.6" r="7.8"/><circle cx="2076.9" cy="254.7" r="7.8"/><circle cx="2080.7" cy="311.4" r="7.8"/><circle cx="2085.4" cy="298.6" r="7.8"/><circle cx="2090.0" cy="263.6" r="7.8"/><circle cx="2093.9" cy="233.3" r="7.8"/><circle cx="2098.1" cy="307.1" r="7.8"/><circle cx="2103.3" cy="261.7" r="7.8"/><circle cx="2107.6" cy="322.6" r="7.8"/><circle cx="2111.4" cy="301.7" r="7.8"/><circle cx="2116.7" cy="320.7" r="7.8"/><circle cx="2121.4" cy="306.4" r="7.8"/><circle cx="2125.7" cy="292.9" r="7.8"/><circle cx="2129.7" cy="313.1" r="7.8"/><circle cx="2134.3" cy="253.1" r="7.8"/><circle cx="2139.0" cy="297.9" r="7.8"/></g>
<path d="M1605.7 774.0V836.0M1610.4 843.6V905.6M1615.0 784.4V846.4M1619.0 725.4V787.4M1623.9 761.1V823.1M1628.3 806.9V868.9M1632.1 782.6V844.6M1636.9 845.4V907.4M1641.4 822.1V884.1M1646.1 791.9V853.9M1650.0 770.4V832.4M1655.0 763.3V825.3M1660.0 775.0V837.0M1664.0 807.9V869.9M1667.9 785.4V847.4M1672.6 823.0V885.0M1677.1 787.3V849.3M1681.9 835.4V897.4M1685.7 803.0V865.0M1690.4 785.4V847.4M1695.0 821.1V883.1M1698.9 844.4V906.4M1703.6 809.0V871.0M1708.3 780.7V842.7M1712.6 798.3V860.3M1716.9 802.6V864.6M1721.1 737.6V799.6M1726.0 814.0V876.0M1730.7 759.7V821.7M1734.3 770.4V832.4M1738.6 770.4V832.4M1743.9 858.3V920.3M1747.9 761.9V823.9M1752.4 711.9V773.9M1757.1 764.0V826.0M1761.4 746.4V808.4M1765.3 773.3V835.3M1770.0 738.7V800.7M1774.3 821.9V883.9M1779.3 836.1V898.1M1783.3 814.4V876.4M1787.9 856.9V918.9M1792.6 791.9V853.9M1797.1 723.6V785.6M1801.0 841.1V903.1M1805.7 839.0V901.0M1810.4 821.1V883.1M1814.3 774.0V836.0M1819.0 738.7V800.7M1823.6 791.9V853.9M1828.6 746.1V808.1M1832.1 823.0V885.0M1836.7 795.9V857.9M1841.4 779.0V841.0M1846.1 810.7V872.7M1849.7 826.9V888.9M1854.7 807.3V869.3M1859.3 813.6V875.6M1862.9 737.6V799.6M1867.6 621.9V683.9M1872.1 582.6V644.6M1877.1 510.4V572.4M1880.7 591.1V653.1M1885.3 611.1V673.1M1890.0 605.0V667.0M1895.0 587.3V649.3M1898.6 660.7V722.7M1903.3 677.6V739.6M1907.9 725.0V787.0M1912.9 733.0V795.0M1916.4 745.4V807.4M1921.1 668.3V730.3M1925.4 647.6V709.6M1929.7 721.6V783.6M1934.3 638.3V700.3M1939.3 648.7V710.7M1943.6 735.9V797.9M1947.1 713.0V775.0M1952.1 727.3V789.3M1956.9 702.1V764.1M1961.4 783.6V845.6M1965.4 712.6V774.6M1970.0 722.6V784.6M1974.7 689.7V751.7M1978.6 779.7V841.7M1982.9 737.3V799.3M1987.9 715.0V777.0M1992.6 761.9V823.9M1996.4 735.4V797.4M2000.7 739.7V801.7M2005.7 660.7V722.7M2010.0 729.7V791.7M2018.6 726.1V788.1M2016.4 774.7V836.7M2023.6 781.6V843.6M2027.9 759.0V821.0M2031.9 749.7V811.7M2036.4 763.3V825.3M2041.4 756.1V818.1M2045.7 764.0V826.0M2049.3 780.7V842.7M2054.3 742.1V804.1M2059.0 836.1V898.1M2062.9 780.7V842.7M2067.6 735.4V797.4M2072.1 837.3V899.3M2077.1 741.6V803.6M2080.7 770.4V832.4M2085.7 786.4V848.4M2090.7 773.3V835.3M2094.3 784.0V846.0M2098.6 797.6V859.6M2103.1 751.9V813.9M2107.9 778.7V840.7M2111.4 801.1V863.1M2116.4 823.0V885.0M2121.4 798.7V860.7M2125.7 850.4V912.4M2129.3 788.3V850.3M2134.3 726.1V788.1M2138.9 827.9V889.9" stroke="#d3d3d3" stroke-width="3.6" fill="none"/>
<g fill="#ff69b4"><circle cx="1605.7" cy="805.0" r="7.8"/><circle cx="1610.4" cy="874.6" r="7.8"/><circle cx="1615.0" cy="815.4" r="7.8"/><circle cx="1619.0" cy="756.4" r="7.8"/><circle cx="1623.9" cy="792.1" r="7.8"/><circle cx="1628.3" cy="837.9" r="7.8"/><circle cx="1632.1" cy="813.6" r="7.8"/><circle cx="1636.9" cy="876.4" r="7.8"/><circle cx="1641.4" cy="853.1" r="7.8"/><circle cx="1646.1" cy="822.9" r="7.8"/><circle cx="1650.0" cy="801.4" r="7.8"/><circle cx="1655.0" cy="794.3" r="7.8"/><circle cx="1660.0" cy="806.0" r="7.8"/><circle cx="1664.0" cy="838.9" r="7.8"/><circle cx="1667.9" cy="816.4" r="7.8"/><circle cx="1672.6" cy="854.0" r="7.8"/><circle cx="1677.1" cy="818.3" r="7.8"/><circle cx="1681.9" cy="866.4" r="7.8"/><circle cx="1685.7" cy="834.0" r="7.8"/><circle cx="1690.4" cy="816.4" r="7.8"/><circle cx="1695.0" cy="852.1" r="7.8"/><circle cx="1698.9" cy="875.4" r="7.8"/><circle cx="1703.6" cy="840.0" r="7.8"/><circle cx="1708.3" cy="811.7" r="7.8"/><circle cx="1712.6" cy="829.3" r="7.8"/><circle cx="1716.9" cy="833.6" r="7.8"/><circle cx="1721.1" cy="768.6" r="7.8"/><circle cx="1726.0" cy="845.0" r="7.8"/><circle cx="1730.7" cy="790.7" r="7.8"/><circle cx="1734.3" cy="801.4" r="7.8"/><circle cx="1738.6" cy="801.4" r="7.8"/><circle cx="1743.9" cy="889.3" r="7.8"/><circle cx="1747.9" cy="792.9" r="7.8"/><circle cx="1752.4" cy="742.9" r="7.8"/><circle cx="1757.1" cy="795.0" r="7.8"/><circle cx="1761.4" cy="777.4" r="7.8"/><circle cx="1765.3" cy="804.3" r="7.8"/><circle cx="1770.0" cy="769.7" r="7.8"/><circle cx="1774.3" cy="852.9" r="7.8"/><circle cx="1779.3" cy="867.1" r="7.8"/><circle cx="1783.3" cy="845.4" r="7.8"/><circle cx="1787.9" cy="887.9" r="7.8"/><circle cx="1792.6" cy="822.9" r="7.8"/><circle cx="1797.1" cy="754.6" r="7.8"/><circle cx="1801.0" cy="872.1" r="7.8"/><circle cx="1805.7" cy="870.0" r="7.8"/><circle cx="1810.4" cy="852.1" r="7.8"/><circle cx="1814.3" cy="805.0" r="7.8"/><circle cx="1819.0" cy="769.7" r="7.8"/><circle cx="1823.6" cy="822.9" r="7.8"/><circle cx="1828.6" cy="777.1" r="7.8"/><circle cx="1832.1" cy="854.0" r="7.8"/><circle cx="1836.7" cy="826.9" r="7.8"/><circle cx="1841.4" cy="810.0" r="7.8"/><circle cx="1846.1" cy="841.7" r="7.8"/><circle cx="1849.7" cy="857.9" r="7.8"/><circle cx="1854.7" cy="838.3" r="7.8"/><circle cx="1859.3" cy="844.6" r="7.8"/><circle cx="1862.9" cy="768.6" r="7.8"/><circle cx="1867.6" cy="652.9" r="7.8"/><circle cx="1872.1" cy="613.6" r="7.8"/><circle cx="1877.1" cy="541.4" r="7.8"/><circle cx="1880.7" cy="622.1" r="7.8"/><circle cx="1885.3" cy="642.1" r="7.8"/><circle cx="1890.0" cy="636.0" r="7.8"/><circle cx="1895.0" cy="618.3" r="7.8"/><circle cx="1898.6" cy="691.7" r="7.8"/><circle cx="1903.3" cy="708.6" r="7.8"/><circle cx="1907.9" cy="756.0" r="7.8"/><circle cx="1912.9" cy="764.0" r="7.8"/><circle cx="1916.4" cy="776.4" r="7.8"/><circle cx="1921.1" cy="699.3" r="7.8"/><circle cx="1925.4" cy="678.6" r="7.8"/><circle cx="1929.7" cy="752.6" r="7.8"/><circle cx="1934.3" cy="669.3" r="7.8"/><circle cx="1939.3" cy="679.7" r="7.8"/><circle cx="1943.6" cy="766.9" r="7.8"/><circle cx="1947.1" cy="744.0" r="7.8"/><circle cx="1952.1" cy="758.3" r="7.8"/><circle cx="1956.9" cy="733.1" r="7.8"/><circle cx="1961.4" cy="814.6" r="7.8"/><circle cx="1965.4" cy="743.6" r="7.8"/><circle cx="1970.0" cy="753.6" r="7.8"/><circle cx="1974.7" cy="720.7" r="7.8"/><circle cx="1978.6" cy="810.7" r="7.8"/><circle cx="1982.9" cy="768.3" r="7.8"/><circle cx="1987.9" cy="746.0" r="7.8"/><circle cx="1992.6" cy="792.9" r="7.8"/><circle cx="1996.4" cy="766.4" r="7.8"/><circle cx="2000.7" cy="770.7" r="7.8"/><circle cx="2005.7" cy="691.7" r="7.8"/><circle cx="2010.0" cy="760.7" r="7.8"/><circle cx="2018.6" cy="757.1" r="7.8"/><circle cx="2016.4" cy="805.7" r="7.8"/><circle cx="2023.6" cy="812.6" r="7.8"/><circle cx="2027.9" cy="790.0" r="7.8"/><circle cx="2031.9" cy="780.7" r="7.8"/><circle cx="2036.4" cy="794.3" r="7.8"/><circle cx="2041.4" cy="787.1" r="7.8"/><circle cx="2045.7" cy="795.0" r="7.8"/><circle cx="2049.3" cy="811.7" r="7.8"/><circle cx="2054.3" cy="773.1" r="7.8"/><circle cx="2059.0" cy="867.1" r="7.8"/><circle cx="2062.9" cy="811.7" r="7.8"/><circle cx="2067.6" cy="766.4" r="7.8"/><circle cx="2072.1" cy="868.3" r="7.8"/><circle cx="2077.1" cy="772.6" r="7.8"/><circle cx="2080.7" cy="801.4" r="7.8"/><circle cx="2085.7" cy="817.4" r="7.8"/><circle cx="2090.7" cy="804.3" r="7.8"/><circle cx="2094.3" cy="815.0" r="7.8"/><circle cx="2098.6" cy="828.6" r="7.8"/><circle cx="2103.1" cy="782.9" r="7.8"/><circle cx="2107.9" cy="809.7" r="7.8"/><circle cx="2111.4" cy="832.1" r="7.8"/><circle cx="2116.4" cy="854.0" r="7.8"/><circle cx="2121.4" cy="829.7" r="7.8"/><circle cx="2125.7" cy="881.4" r="7.8"/><circle cx="2129.3" cy="819.3" r="7.8"/><circle cx="2134.3" cy="757.1" r="7.8"/><circle cx="2138.9" cy="858.9" r="7.8"/></g>
<rect x="1579.2" y="10.4" width="585.1" height="953.9" fill="none" stroke="#000" stroke-width="2.0"/>
<path d="M1605.4 964.3V973.6999999999999M1681.9 964.3V973.6999999999999M1758.4 964.3V973.6999999999999M1834.9 964.3V973.6999999999999M1911.4 964.3V973.6999999999999M1987.9 964.3V973.6999999999999M2064.4 964.3V973.6999999999999M2140.9 964.3V973.6999999999999M1569.8 829.3H1579.2M1569.8 664.8H1579.2M1569.8 500.4H1579.2M1569.8 335.9H1579.2M1569.8 171.5H1579.2" stroke="#000" stroke-width="2.0" fill="none"/>
<text id="x0_0" text-anchor="middle" font-size="32.4" textLength="50.32" lengthAdjust="spacing" x="113.60" y="1007.20">0.0</text>
<text id="x0_1" text-anchor="middle" font-size="32.4" textLength="50.32" lengthAdjust="spacing" x="190.10" y="1007.20">0.5</text>
<text id="x0_2" text-anchor="middle" font-size="32.4" textLength="50.32" lengthAdjust="spacing" x="266.60" y="1007.20">1.0</text>
<text id="x0_3" text-anchor="middle" font-size="32.4" textLength="50.32" lengthAdjust="spacing" x="343.10" y="1007.20">1.5</text>
<text id="x0_4" text-anchor="middle" font-size="32.4" textLength="50.32" lengthAdjust="spacing" x="419.60" y="1007.20">2.0</text>
<text id="x0_5" text-anchor="middle" font-size="32.4" textLength="50.32" lengthAdjust="spacing" x="496.10" y="1007.20">2.5</text>
<text id="x0_6" text-anchor="middle" font-size="32.4" textLength="50.32" lengthAdjust="spacing" x="572.60" y="1007.20">3.0</text>
<text id="x0_7" text-anchor="middle" font-size="32.4" textLength="50.32" lengthAdjust="spacing" x="649.10" y="1007.20">3.5</text>
<text id="y0_0" text-anchor="end" font-size="32.4" x="69.70" y="895.50">0</text>
<text id="y0_1" text-anchor="end" font-size="32.4" x="69.70" y="721.57">1</text>
<text id="y0_2" text-anchor="end" font-size="32.4" x="69.70" y="547.64">2</text>
<text id="y0_3" text-anchor="end" font-size="32.4" x="69.70" y="373.71">3</text>
<text id="y0_4" text-anchor="end" font-size="32.4" x="69.70" y="199.78">4</text>
<text id="y0_5" text-anchor="end" font-size="32.4" x="69.70" y="25.85">5</text>
<text id="x1_0" text-anchor="middle" font-size="32.4" textLength="50.32" lengthAdjust="spacing" x="859.50" y="1007.20">0.0</text>
<text id="x1_1" text-anchor="middle" font-size="32.4" textLength="50.32" lengthAdjust="spacing" x="936.00" y="1007.20">0.5</text>
<text id="x1_2" text-anchor="middle" font-size="32.4" textLength="50.32" lengthAdjust="spacing" x="1012.50" y="1007.20">1.0</text>
<text id="x1_3" text-anchor="middle" font-size="32.4" textLength="50.32" lengthAdjust="spacing" x="1089.00" y="1007.20">1.5</text>
<text id="x1_4" text-anchor="middle" font-size="32.4" textLength="50.32" lengthAdjust="spacing" x="1165.50" y="1007.20">2.0</text>
<text id="x1_5" text-anchor="middle" font-size="32.4" textLength="50.32" lengthAdjust="spacing" x="1242.00" y="1007.20">2.5</text>
<text id="x1_6" text-anchor="middle" font-size="32.4" textLength="50.32" lengthAdjust="spacing" x="1318.50" y="1007.20">3.0</text>
<text id="x1_7" text-anchor="middle" font-size="32.4" textLength="50.32" lengthAdjust="spacing" x="1395.00" y="1007.20">3.5</text>
<text id="y1_0" text-anchor="end" font-size="32.4" textLength="89.23" lengthAdjust="spacing" x="814.10" y="875.00">0.000</text>
<text id="y1_1" text-anchor="end" font-size="32.4" textLength="89.23" lengthAdjust="spacing" x="814.10" y="730.52">0.005</text>
<text id="y1_2" text-anchor="end" font-size="32.4" textLength="89.23" lengthAdjust="spacing" x="814.10" y="586.04">0.010</text>
<text id="y1_3" text-anchor="end" font-size="32.4" textLength="89.23" lengthAdjust="spacing" x="814.10" y="441.56">0.015</text>
<text id="y1_4" text-anchor="end" font-size="32.4" textLength="89.23" lengthAdjust="spacing" x="814.10" y="297.08">0.020</text>
<text id="y1_5" text-anchor="end" font-size="32.4" textLength="89.23" lengthAdjust="spacing" x="814.10" y="152.60">0.025</text>
<text id="x2_0" text-anchor="middle" font-size="32.4" textLength="50.32" lengthAdjust="spacing" x="1605.40" y="1007.20">0.0</text>
<text id="x2_1" text-anchor="middle" font-size="32.4" textLength="50.32" lengthAdjust="spacing" x="1681.90" y="1007.20">0.5</text>
<text id="x2_2" text-anchor="middle" font-size="32.4" textLength="50.32" lengthAdjust="spacing" x="1758.40" y="1007.20">1.0</text>
<text id="x2_3" text-anchor="middle" font-size="32.4" textLength="50.32" lengthAdjust="spacing" x="1834.90" y="1007.20">1.5</text>
<text id="x2_4" text-anchor="middle" font-size="32.4" textLength="50.32" lengthAdjust="spacing" x="1911.40" y="1007.20">2.0</text>
<text id="x2_5" text-anchor="middle" font-size="32.4" textLength="50.32" lengthAdjust="spacing" x="1987.90" y="1007.20">2.5</text>
<text id="x2_6" text-anchor="middle" font-size="32.4" textLength="50.32" lengthAdjust="spacing" x="2064.40" y="1007.20">3.0</text>
<text id="x2_7" text-anchor="middle" font-size="32.4" textLength="50.32" lengthAdjust="spacing" x="2140.90" y="1007.20">3.5</text>
<text id="y2_0" text-anchor="end" font-size="32.4" textLength="69.53" lengthAdjust="spacing" x="1559.80" y="841.20">0.00</text>
<text id="y2_1" text-anchor="end" font-size="32.4" textLength="69.53" lengthAdjust="spacing" x="1559.80" y="676.75">0.01</text>
<text id="y2_2" text-anchor="end" font-size="32.4" textLength="69.53" lengthAdjust="spacing" x="1559.80" y="512.30">0.02</text>
<text id="y2_3" text-anchor="end" font-size="32.4" textLength="69.53" lengthAdjust="spacing" x="1559.80" y="347.85">0.03</text>
<text id="y2_4" text-anchor="end" font-size="32.4" textLength="69.53" lengthAdjust="spacing" x="1559.80" y="183.40">0.04</text>
<text id="t1" text-anchor="end" font-size="33.6" fill="#b22222" textLength="262.32" lengthAdjust="spacing" x="666.80" y="58.10">H<tspan font-style="italic">α</tspan>, <tspan font-style="italic">λ</tspan>0.6565<tspan font-style="italic">μ</tspan>m</text>
<text id="t2" text-anchor="end" font-size="33.6" fill="#ff00ff" textLength="255.02" lengthAdjust="spacing" x="1405.60" y="59.70">P<tspan font-style="italic">β</tspan>, <tspan font-style="italic">λ</tspan>1.2822<tspan font-style="italic">μ</tspan>m</text>
<text id="t3" text-anchor="end" font-size="33.6" fill="#ff69b4" textLength="257.82" lengthAdjust="spacing" x="2154.00" y="59.20">P<tspan font-style="italic">α</tspan>, <tspan font-style="italic">λ</tspan>1.8756<tspan font-style="italic">μ</tspan>m</text>
<text id="s1" font-size="39.0" font-family="'FreeMono', 'TeX Gyre Cursor', 'Liberation Mono', monospace" textLength="304.60" lengthAdjust="spacing" x="113.30" y="409.20">supreme-SPOON</text>
<text id="r1" font-size="39.0" font-family="'FreeMono', 'TeX Gyre Cursor', 'Liberation Mono', monospace" textLength="444.91" lengthAdjust="spacing" x="114.90" y="945.30">transitspectroscopy</text>
<text id="s2" font-size="39.0" font-family="'FreeMono', 'TeX Gyre Cursor', 'Liberation Mono', monospace" textLength="302.80" lengthAdjust="spacing" x="859.50" y="414.70">supreme-SPOON</text>
<text id="r2" font-size="39.0" font-family="'FreeMono', 'TeX Gyre Cursor', 'Liberation Mono', monospace" textLength="444.61" lengthAdjust="spacing" x="860.90" y="940.70">transitspectroscopy</text>
<text id="s3" font-size="39.0" font-family="'FreeMono', 'TeX Gyre Cursor', 'Liberation Mono', monospace" textLength="303.90" lengthAdjust="spacing" x="1604.70" y="417.70">supreme-SPOON</text>
<text id="r3" font-size="39.0" font-family="'FreeMono', 'TeX Gyre Cursor', 'Liberation Mono', monospace" textLength="446.01" lengthAdjust="spacing" x="1606.50" y="939.20">transitspectroscopy</text>
<text id="time" text-anchor="middle" font-size="40" textLength="178.32" lengthAdjust="spacing" x="1084.75" y="1083.40">Time [hr]</text>
<text id="ylab" text-anchor="middle" font-size="40" textLength="379.05" lengthAdjust="spacing" transform="translate(33.90 538.60) rotate(-90)">Flux + offset [ΔF/F]</text>
</svg>
</body></html>
